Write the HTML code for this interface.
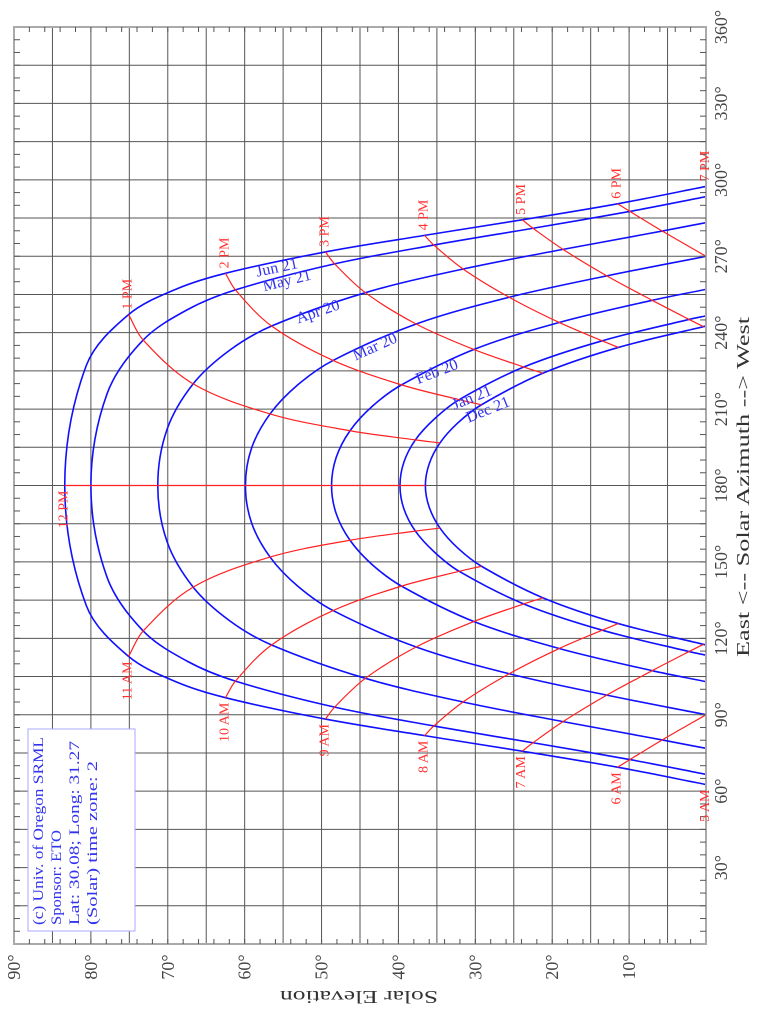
<!DOCTYPE html>
<html>
<head>
<meta charset="utf-8">
<style>
  html, body { margin: 0; padding: 0; background: #fff; }
  svg { display: block; }
  text { font-family: "Liberation Serif", serif; }
</style>
</head>
<body>
<svg id="chart" width="768" height="1024" viewBox="0 0 768 1024" xmlns="http://www.w3.org/2000/svg">
  <rect x="0" y="0" width="768" height="1024" fill="#fff"/>
  <defs>
    <clipPath id="plotClip"><rect x="80" y="14" width="917" height="692"/></clipPath>
  </defs>
  <g id="rot" transform="translate(0,1024) rotate(-90)">
    <g id="grid"></g>
    <g id="series" clip-path="url(#plotClip)"></g>
    <rect x="80" y="14" width="917" height="692" fill="none" stroke="#aaa" stroke-width="2"/>
    <g id="ticks"></g>
    <g id="labels"></g>
    <g>
      <rect x="93" y="28" width="202" height="107" fill="#fff" stroke="#aaaaff" stroke-width="1"/>
      <text x="99" y="43" font-size="15" fill="#3333ee" textLength="188" lengthAdjust="spacingAndGlyphs">(c) Univ. of Oregon SRML</text>
      <text x="99" y="61" font-size="15" fill="#3333ee" textLength="95" lengthAdjust="spacingAndGlyphs">Sponsor: ETO</text>
      <text x="99" y="79" font-size="15" fill="#3333ee" textLength="184" lengthAdjust="spacingAndGlyphs">Lat: 30.08; Long: 31.27</text>
      <text x="99" y="97" font-size="15" fill="#3333ee" textLength="164" lengthAdjust="spacingAndGlyphs">(Solar) time zone: 2</text>
    </g>
    <text x="537" y="749" font-size="18" fill="#333" text-anchor="middle" textLength="340" lengthAdjust="spacingAndGlyphs">East &lt;-- Solar Azimuth --&gt; West</text>
    <text x="27" y="359" font-size="18" fill="#333" text-anchor="middle" dominant-baseline="central" textLength="158" lengthAdjust="spacingAndGlyphs" transform="rotate(-90 27 359)">Solar Elevation</text>
  </g>
  <g id="dateLabels"></g>
</svg>
<script>
// ---- data ----
const dates = ['Jun 21','May 21','Apr 20','Mar 20','Feb 20','Jan 21','Dec 21'];
const hours = [5,6,7,8,9,10,10.5,11,11.5,12];
const elevJun = [null,11.5,23.9,36.6,49.5,62.5,68.9,75.1,80.6,83.4];
const azJun   = [null,69.4,75.7,81.8,88.3,96.7,102.9,112.9,132.9,180];
const elevMay = [null,9.9,22.5,35.4,48.3,61.2,67.4,73.2,77.9,80.0];
const azMay   = [null,72.4,79.0,85.6,93.0,103.2,110.9,122.9,144.0,180];
const elevApr = [null,5.7,18.6,31.6,44.3,56.5,62.0,66.7,70.1,71.3];
const azApr   = [null,80.1,87.3,95.0,104.3,117.4,127.0,140.1,158.0,180];
const elevMar = [null,0,12.9,25.6,37.7,48.5,53.1,56.7,59.1,59.9];
const azMar   = [null,90,97.7,106.1,116.6,130.9,140.5,151.9,165.3,180];
const elevFeb = [null,null,7.0,19.1,30.2,39.6,43.4,46.3,48.1,48.7];
const azFeb   = [null,null,107.3,116.0,126.6,140.5,148.9,158.5,169.0,180];
const elevJan = [null,null,2.2,13.5,23.7,32.1,35.3,37.8,39.3,39.8];
const azJan   = [null,null,114.8,123.2,133.5,146.3,153.8,162.1,170.9,180];
const elevDec = [null,null,0.35,11.4,21.2,29.2,32.3,34.6,36.0,36.5];
const azDec   = [null,null,117.6,125.8,135.9,148.3,155.5,163.3,171.5,180];
const sunriseAz = [62.6,66.6,76.8,90,103.0,113.4,117.4];
const azTicks = [30,60,90,120,150,180,210,240,270,300,330,360];
const elTicks = [10,20,30,40,50,60,70,80,90];
const amLabels = {5:'5 AM',6:'6 AM',7:'7 AM',8:'8 AM',9:'9 AM',10:'10 AM',11:'11 AM'};
const pmLabels = {5:'7 PM',6:'6 PM',7:'5 PM',8:'4 PM',9:'3 PM',10:'2 PM',11:'1 PM'};

const elevs = [elevJun,elevMay,elevApr,elevMar,elevFeb,elevJan,elevDec];
const azs = [azJun,azMay,azApr,azMar,azFeb,azJan,azDec];

// ---- axis functions (rotated frame) ----
const X0 = 80, X1 = 997, Y0 = 706, Y1 = 14;
function xAz(a){ return X0 + a*(X1-X0)/360; }
function yEl(e){ return Y0 - e*(Y0-Y1)/90; }
const NS = 'http://www.w3.org/2000/svg';
function mk(tag, attrs, parent){
  const el = document.createElementNS(NS, tag);
  for (const k in attrs) el.setAttribute(k, attrs[k]);
  parent.appendChild(el);
  return el;
}
function dist(a,b){ return Math.hypot(a[0]-b[0], a[1]-b[1]); }
function smooth(pts){
  if (pts.length < 2) return '';
  let d = 'M' + pts[0][0].toFixed(2) + ',' + pts[0][1].toFixed(2);
  for (let i=0;i<pts.length-1;i++){
    const p0 = pts[i-1]||pts[i], p1 = pts[i], p2 = pts[i+1], p3 = pts[i+2]||pts[i+1];
    const seg = dist(p1,p2);
    // tangent directions scaled by segment length (reduces overshoot)
    let t1 = [p2[0]-p0[0], p2[1]-p0[1]], l1 = Math.hypot(t1[0],t1[1])||1;
    let t2 = [p3[0]-p1[0], p3[1]-p1[1]], l2 = Math.hypot(t2[0],t2[1])||1;
    const c1 = [p1[0]+t1[0]/l1*seg/3, p1[1]+t1[1]/l1*seg/3];
    const c2 = [p2[0]-t2[0]/l2*seg/3, p2[1]-t2[1]/l2*seg/3];
    d += ' C'+c1[0].toFixed(2)+','+c1[1].toFixed(2)+' '+c2[0].toFixed(2)+','+c2[1].toFixed(2)+' '+p2[0].toFixed(2)+','+p2[1].toFixed(2);
  }
  return d;
}

const grid = document.getElementById('grid');
const series = document.getElementById('series');
const ticks = document.getElementById('ticks');
const labels = document.getElementById('labels');

for (let a=15; a<360; a+=15){
  const l = mk('line',{x1:xAz(a),x2:xAz(a),y1:Y1,y2:Y0,stroke:'#555','stroke-width':1},grid);
  
  
}
for (let e=5; e<90; e+=5){
  const l = mk('line',{x1:X0,x2:X1,y1:yEl(e),y2:yEl(e),stroke:'#555','stroke-width':1},grid);
  
  
}
for (let a=5; a<360; a+=5){
  mk('line',{x1:xAz(a),x2:xAz(a),y1:Y1,y2:Y1+6,stroke:'#555','stroke-width':1},ticks);
  mk('line',{x1:xAz(a),x2:xAz(a),y1:Y0,y2:Y0-6,stroke:'#555','stroke-width':1},ticks);
}
for (let e=2; e<90; e+=2){
  mk('line',{x1:X0,x2:X0+5,y1:yEl(e),y2:yEl(e),stroke:'#555','stroke-width':1},ticks);
  mk('line',{x1:X1,x2:X1-5,y1:yEl(e),y2:yEl(e),stroke:'#555','stroke-width':1},ticks);
}
azTicks.forEach(a=>{
  const t = mk('text',{x:xAz(a),y:721,'font-size':18,fill:'#444','text-anchor':'middle','dominant-baseline':'central'},labels);
  t.textContent = a + '°';
  
  
});
elTicks.forEach(e=>{
  const t = mk('text',{x:57,y:yEl(e),'font-size':18,fill:'#444','text-anchor':'middle','dominant-baseline':'central'},labels);
  t.textContent = e + '°';
  
  
});

// date curves
dates.forEach((dname, di)=>{
  const el = elevs[di], az = azs[di];
  const morning = [[xAz(sunriseAz[di]), yEl(0)]];
  for (let i=0;i<hours.length;i++){
    if (el[i] === null || el[i] < 1) continue;
    morning.push([xAz(az[i]), yEl(el[i])]);
  }
  const pts = morning.slice();
  for (let i=morning.length-2;i>=0;i--){
    pts.push([xAz(360) - (morning[i][0]-xAz(0)), morning[i][1]]);
  }
  const p = mk('path',{d:smooth(pts),fill:'none',stroke:'#1010ff','stroke-width':1.6},series);
  
  
});

// hour lines
hours.forEach((h, hi)=>{
  if (h !== Math.floor(h)) return;
  const am = [], pm = [];
  for (let di=0; di<dates.length; di++){
    const e = elevs[di][hi];
    if (e === null) break;
    am.push([xAz(azs[di][hi]), yEl(e)]);
    pm.push([xAz(360-azs[di][hi]), yEl(e)]);
  }
  if (am.length >= 2){
    const p1 = mk('path',{d:smooth(am),fill:'none',stroke:'#ff2020','stroke-width':1.2},series);
    
    
    if (h !== 12){
      const p2 = mk('path',{d:smooth(pm),fill:'none',stroke:'#ff2020','stroke-width':1.2},series);
      
      
    }
  }
  let e0 = elevJun[hi], a0 = azJun[hi];
  if (e0 === null){ e0 = 0; a0 = sunriseAz[0]; }
  const yy = yEl(e0) + 3;
  if (h === 12){
    const t = mk('text',{x:xAz(180)-5,y:yy,'font-size':14,fill:'#ff3030','text-anchor':'end'},labels);
    t.textContent = '12 PM';
    
    
  } else {
    const ta = mk('text',{x:xAz(a0)-5,y:yy,'font-size':14,fill:'#ff3030','text-anchor':'end'},labels);
    ta.textContent = amLabels[h];
    
    
    const tp = mk('text',{x:xAz(360-a0)+5,y:yy,'font-size':14,fill:'#ff3030','text-anchor':'start'},labels);
    tp.textContent = pmLabels[h];
    
    
  }
});

const dl = document.getElementById('dateLabels');
const dlPos = [[277,268,-12],[287,281,-14],[318,312,-19],[375,347,-24],[437,372,-21],[472,398,-22],[488,410,-22]];
dates.forEach((d,i)=>{
  const p = dlPos[i];
  const t = mk('text',{x:0,y:0,transform:'translate('+p[0]+','+p[1]+') rotate('+p[2]+')','font-size':16,fill:'#3333ee','text-anchor':'middle','dominant-baseline':'central'},dl);
  t.textContent = d;
  
  
});
</script>
</body>
</html>
